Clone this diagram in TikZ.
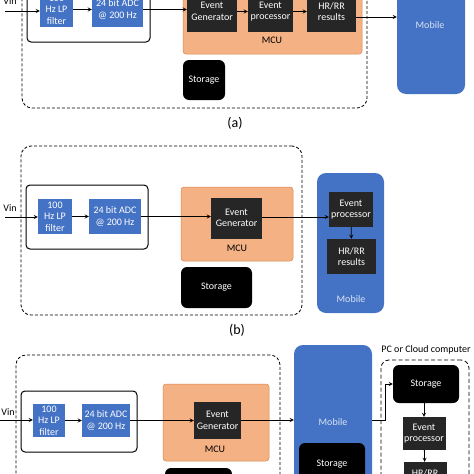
\documentclass[tikz,border=0pt]{standalone}
\usepackage{fontspec}
\setmainfont{Carlito}
\definecolor{boxblue}{HTML}{4472C4}
\definecolor{mcuorange}{HTML}{F4B183}
\definecolor{mcuedge}{HTML}{D9894F}
\definecolor{evgray}{HTML}{262626}
\definecolor{moblabel}{HTML}{DAE3F3}
\begin{document}
\begin{tikzpicture}[x=1pt, y=-1pt,
    board/.style={draw, densely dashed, rounded corners=10pt, line width=0.8pt, inner sep=0pt},
    cloud/.style={draw, dash pattern=on 4pt off 2.5pt, rounded corners=8pt, line width=0.8pt, inner sep=0pt},
    analog/.style={draw, rounded corners=4pt, line width=1pt, inner sep=0pt},
    block/.style={fill=boxblue, text=white, inner sep=0pt, align=center, font=\fontsize{10}{11.5}\selectfont},
    mcu/.style={fill=mcuorange, draw=mcuedge, line width=0.5pt, rounded corners=3pt, inner sep=0pt},
    proc/.style={fill=evgray, text=white, inner sep=0pt, align=center, font=\fontsize{10}{11.5}\selectfont},
    store/.style={fill=black, text=white, rounded corners=6pt, inner sep=0pt, font=\fontsize{10}{11.5}\selectfont},
    mobile/.style={fill=boxblue, rounded corners=9pt, inner sep=0pt},
    lbl/.style={font=\fontsize{10}{11.5}\selectfont},
    moblbl/.style={text=moblabel, font=\fontsize{10}{11.5}\selectfont},
    caption/.style={font=\fontsize{14}{16}\selectfont},
    arrow/.style={->, >=stealth, line width=0.8pt}
]
\useasboundingbox (0,0) rectangle (474,474);
\clip (0,0) rectangle (474,474);

% (a)
\node[board, minimum width=345pt, minimum height=169pt] (outA) at (194.5,23.5) {};
\node[analog, minimum width=123pt, minimum height=64pt] (anaA) at (88.5,10) {};
\node[block, minimum width=33pt, minimum height=35pt] (filtA) at (56.5,9.5) {100\\Hz LP\\filter};
\node[block, minimum width=51pt, minimum height=35pt] (adcA) at (117.5,9.5) {24 bit ADC\\@ 200 Hz};
\node[mcu, minimum width=179pt, minimum height=74pt] (mcuA) at (272.5,17) {};
\node[proc, minimum width=50pt, minimum height=41pt] (egA) at (212,11.5) {Event\\Generator};
\node[proc, minimum width=45pt, minimum height=41pt] (epA) at (270.5,11.5) {Event\\processor};
\node[proc, minimum width=49pt, minimum height=41pt] (hrA) at (331.5,11.5) {HR/RR\\results};
\node[lbl] (mcuLblA) at (272,40) {MCU};
\node[store, minimum width=42pt, minimum height=40pt] (stA) at (204,80) {Storage};
\node[mobile, minimum width=68pt, minimum height=134pt] (mobA) at (431,27) {};
\node[moblbl] (mobLblA) at (430,25) {Mobile};
\node[lbl] (vinA) at (10,1) {Vin};
\coordinate (inA) at (5,11);
\node[caption] (capA) at (235,123) {(a)};

\draw[arrow] (inA) -- (inA -| filtA.west);
\draw[arrow] (filtA) -- (adcA);
\draw[arrow] (adcA) -- (adcA -| egA.west);
\draw[arrow] (egA) -- (epA);
\draw[arrow] (epA) -- (hrA);
\draw[arrow] (hrA.east |- 0,17) -- (mobA.west |- 0,17);

% (b)
\node[board, minimum width=281pt, minimum height=169pt] (outB) at (161.5,230.5) {};
\node[analog, minimum width=122pt, minimum height=64pt] (anaB) at (87,217) {};
\node[block, minimum width=34pt, minimum height=35pt] (filtB) at (55,216.5) {100\\Hz LP\\filter};
\node[block, minimum width=52pt, minimum height=35pt] (adcB) at (115,216.5) {24 bit ADC\\@ 200 Hz};
\node[mcu, minimum width=112pt, minimum height=74pt] (mcuB) at (237,224) {};
\node[proc, minimum width=51pt, minimum height=41pt] (egB) at (236.5,218) {Event\\Generator};
\node[lbl] (mcuLblB) at (237,248) {MCU};
\node[store, minimum width=71pt, minimum height=41pt] (stB) at (216.5,287.5) {Storage};
\node[mobile, minimum width=67pt, minimum height=140pt] (mobB) at (350.5,243) {};
\node[proc, minimum width=44pt, minimum height=35pt] (epB) at (351,209.5) {Event\\processor};
\node[proc, minimum width=49pt, minimum height=35pt] (hrB) at (351.5,256.5) {HR/RR\\results};
\node[moblbl] (mobLblB) at (351,299) {Mobile};
\node[lbl] (vinB) at (10,208) {Vin};
\coordinate (inB) at (5,217);
\node[caption] (capB) at (237,330) {(b)};

\draw[arrow] (inB) -- (inB -| filtB.west);
\draw[arrow] (filtB) -- (adcB);
\draw[arrow] (adcB) -- (adcB -| egB.west);
\draw[arrow] (egB.east |- inB) -- (epB.west |- inB);
\draw[arrow] (epB) -- (hrB);

% (c)
\node[board, minimum width=264pt, minimum height=175pt] (outC) at (148,442.5) {};
\node[analog, minimum width=116pt, minimum height=61pt] (anaC) at (79,421.5) {};
\node[block, minimum width=32pt, minimum height=33pt] (filtC) at (49,420.5) {100\\Hz LP\\filter};
\node[block, minimum width=48pt, minimum height=33pt] (adcC) at (106,420.5) {24 bit ADC\\@ 200 Hz};
\node[mcu, minimum width=106pt, minimum height=77pt] (mcuC) at (216,422.5) {};
\node[proc, minimum width=47pt, minimum height=37pt] (egC) at (217.5,420.5) {Event\\Generator};
\node[lbl] (mcuLblC) at (215,449) {MCU};
\node[store, minimum width=67pt, minimum height=42pt] (stC) at (198.5,489) {Storage};
\node[mobile, minimum width=78pt, minimum height=175pt] (mobC) at (333,432.5) {};
\node[moblbl] (mobLblC) at (333,422) {Mobile};
\node[store, minimum width=66pt, minimum height=42pt] (mstC) at (332,464) {Storage};
\node[lbl] (pcLbl) at (426,350) {PC or Cloud computer};
\node[cloud, minimum width=88pt, minimum height=170pt] (pcC) at (425,445) {};
\node[store, minimum width=66pt, minimum height=38pt] (pstC) at (426,384) {Storage};
\node[proc, minimum width=43pt, minimum height=33pt] (epC) at (424,433.5) {Event\\processor};
\node[proc, minimum width=43pt, minimum height=33pt] (hrC) at (425,478.5) {HR/RR\\results};
\node[lbl] (vinC) at (8,412) {Vin};
\coordinate (inC) at (0,420);
\coordinate (bendC) at (385,420);

\draw[arrow] (inC) -- (inC -| filtC.west);
\draw[arrow] (filtC) -- (adcC);
\draw[arrow] (adcC) -- (adcC -| egC.west);
\draw[arrow] (egC.east |- inC) -- (mobC.west |- inC);
\draw[arrow] (mobC.east |- bendC) -- (bendC) |- (pstC.west);
\draw[arrow] (pstC.south -| epC) -- (epC);
\draw[arrow] (epC) -- (hrC);
\end{tikzpicture}
\end{document}
